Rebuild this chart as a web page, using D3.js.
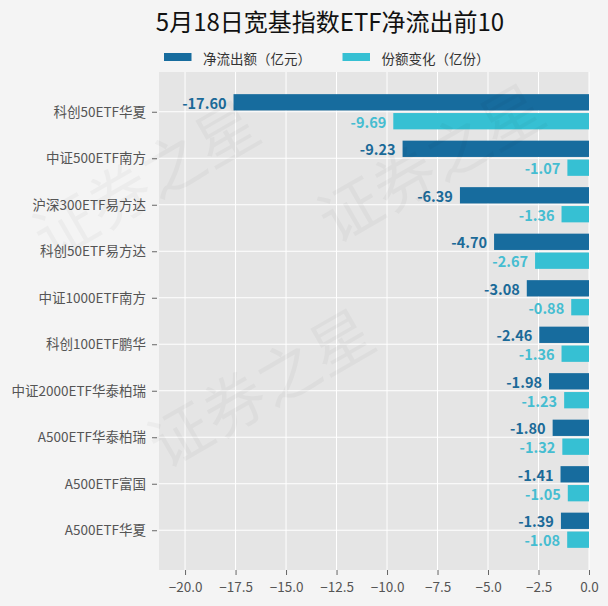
<!DOCTYPE html>
<html>
<head>
<meta charset="utf-8">
<script src="https://cdn.jsdelivr.net/npm/d3@7"></script>
<style>
  body { margin: 0; background: #f4f4f4; }
  svg { display: block; font-family: "Noto Sans CJK SC", "Noto Sans", sans-serif; }
</style>
</head>
<body>
<svg id="chart" width="608" height="606"></svg>
<script>
var names = ["科创50ETF华夏", "中证500ETF南方", "沪深300ETF易方达", "科创50ETF易方达", "中证1000ETF南方",
  "科创100ETF鹏华", "中证2000ETF华泰柏瑞", "A500ETF华泰柏瑞", "A500ETF富国", "A500ETF华夏"];
var flow = [-17.60, -9.23, -6.39, -4.70, -3.08, -2.46, -1.98, -1.80, -1.41, -1.39];
var share = [-9.69, -1.07, -1.36, -2.67, -0.88, -1.36, -1.23, -1.32, -1.05, -1.08];
var xTicks = [-20, -17.5, -15, -12.5, -10, -7.5, -5, -2.5, 0];
var seriesNames = ["净流出额（亿元）", "份额变化（亿份）"];

var dark = "#176c9e", light = "#36c0d3";

var svg = d3.select("#chart"),
  margin = {top: 72, left: 159, bottom: 36, right: 19},
  width = +svg.attr("width"),
  height = +svg.attr("height");

svg.append("rect").attr("width", width).attr("height", height).attr("fill", "#f4f4f4");

var x = d3.scaleLinear().domain([-21.29, 0]).range([margin.left, width - margin.right]);
var y = d3.scalePoint().domain(names).range([margin.top, height - margin.bottom]).padding(0.855);

var g = svg.append("g");

g.append("rect")
  .attr("x", margin.left).attr("y", margin.top)
  .attr("width", x(0) - margin.left).attr("height", height - margin.bottom - margin.top)
  .attr("fill", "#e5e5e5");

g.selectAll(".vgrid").data(xTicks).enter().append("line")
  .attr("x1", d => x(d)).attr("x2", d => x(d))
  .attr("y1", margin.top).attr("y2", height - margin.bottom)
  .attr("stroke", "#fff").attr("stroke-width", 1);

g.selectAll(".hgrid").data(names).enter().append("line")
  .attr("x1", margin.left).attr("x2", x(0))
  .attr("y1", d => y(d)).attr("y2", d => y(d))
  .attr("stroke", "#fff").attr("stroke-width", 1);

// axes
var xAxis = svg.append("g")
  .attr("transform", "translate(0," + (height - margin.bottom) + ")")
  .call(d3.axisBottom(x).tickValues(xTicks).tickFormat(d3.format(".1f")).tickSize(5).tickPadding(7));
xAxis.select(".domain").remove();
xAxis.selectAll("line").attr("stroke", "#666");
xAxis.selectAll("text").attr("fill", "#555").style("font-size", "13.5px")
  .style("font-family", "'Noto Sans CJK SC', sans-serif");

var yAxis = svg.append("g")
  .attr("transform", "translate(" + (margin.left - 2) + ",0)")
  .call(d3.axisLeft(y).tickSize(5).tickPadding(6));
yAxis.select(".domain").remove();
yAxis.selectAll("line").attr("stroke", "#666");
yAxis.selectAll("text").attr("fill", "#555").style("font-size", "13.5px")
  .style("font-family", "'Noto Sans CJK SC', sans-serif");

var bh = 16.3;

g.selectAll(".bar1").data(names).enter().append("rect")
  .attr("x", (d, i) => x(flow[i])).attr("y", d => y(d) - 17.6)
  .attr("width", (d, i) => x(0) - x(flow[i])).attr("height", bh)
  .attr("fill", dark);

g.selectAll(".bar2").data(names).enter().append("rect")
  .attr("x", (d, i) => x(share[i])).attr("y", d => y(d) + 1.3)
  .attr("width", (d, i) => x(0) - x(share[i])).attr("height", bh)
  .attr("fill", light);

g.selectAll(".lab1").data(names).enter().append("text")
  .attr("x", (d, i) => x(flow[i]) - 7).attr("y", d => y(d) - 17.6 + bh / 2)
  .attr("text-anchor", "end").attr("dominant-baseline", "central")
  .attr("fill", "#1b6a98").style("font-size", "14.5px").style("font-weight", "bold")
  .text((d, i) => flow[i].toFixed(2));

g.selectAll(".lab2").data(names).enter().append("text")
  .attr("x", (d, i) => x(share[i]) - 7).attr("y", d => y(d) + 1.3 + bh / 2)
  .attr("text-anchor", "end").attr("dominant-baseline", "central")
  .attr("fill", "#45bdd1").style("font-size", "14.5px").style("font-weight", "bold")
  .text((d, i) => share[i].toFixed(2));

// faint watermark, drawn over the plot like the original
var wm = svg.append("g").attr("fill", "#000").attr("fill-opacity", 0.03)
  .style("font-size", "62px").style("pointer-events", "none");
[[50, 262], [165, 470], [335, 245]].forEach(function(p){
  wm.append("text").attr("transform", "translate(" + p[0] + "," + p[1] + ") rotate(-30)").text("证券之星");
});

// title
svg.append("text")
  .attr("x", 330).attr("y", 31)
  .attr("text-anchor", "middle")
  .attr("fill", "#111")
  .style("font-size", "24px")
  .text("5月18日宽基指数ETF净流出前10");

// legend
var legend = svg.append("g");
[[164, dark], [342.5, light]].forEach(function(p, i){
  legend.append("rect").attr("x", p[0]).attr("y", 53).attr("width", 27.5).attr("height", 8).attr("fill", p[1]);
  legend.append("text").attr("x", p[0] + 39).attr("y", 57.5)
    .attr("dominant-baseline", "central")
    .attr("fill", "#333").style("font-size", "13.5px")
    .text(seriesNames[i]);
});
</script>
</body>
</html>
